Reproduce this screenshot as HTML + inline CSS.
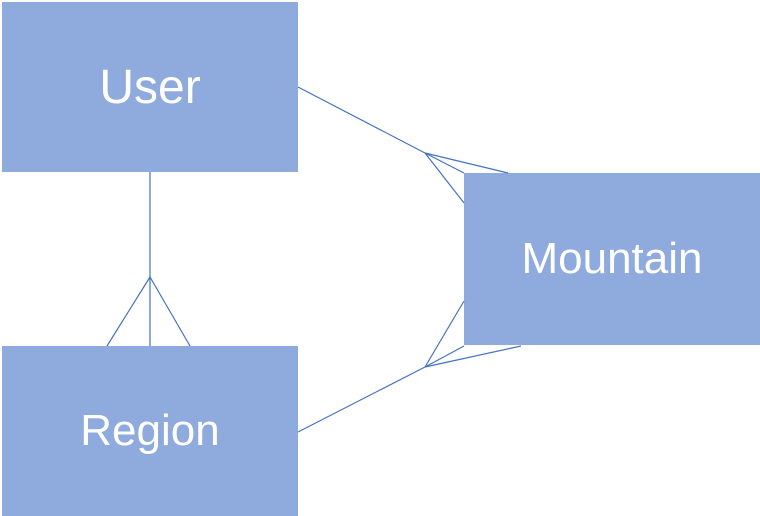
<!DOCTYPE html>
<html><head><style>
body{margin:0;width:760px;height:516px;background:#fff;overflow:hidden;position:relative;font-family:"Liberation Sans",sans-serif}
.b{position:absolute;background:#8faadc;color:#fff;display:flex;align-items:center;justify-content:center}
</style></head><body>
<div class="b" style="left:2px;top:2px;width:296px;height:170px;font-size:48px">User</div>
<div class="b" style="left:2px;top:346px;width:296px;height:170px;font-size:44px">Region</div>
<div class="b" style="left:464px;top:173px;width:296px;height:172px;font-size:44px">Mountain</div>
<svg width="760" height="516" style="position:absolute;left:0;top:0" stroke="#4472c4" stroke-width="1.2" fill="none">
<line x1="298" y1="87" x2="425" y2="153"/>
<line x1="425" y1="153" x2="508" y2="173"/>
<line x1="425" y1="153" x2="464" y2="173"/>
<line x1="425" y1="153" x2="464" y2="203"/>
<line x1="298" y1="432" x2="425" y2="367"/>
<line x1="425" y1="367" x2="521" y2="346"/>
<line x1="425" y1="367" x2="464" y2="346"/>
<line x1="425" y1="367" x2="464" y2="301"/>
<line x1="150" y1="172" x2="150" y2="346"/>
<line x1="150" y1="277" x2="107" y2="346"/>
<line x1="150" y1="277" x2="190" y2="346"/>
</svg>
</body></html>
